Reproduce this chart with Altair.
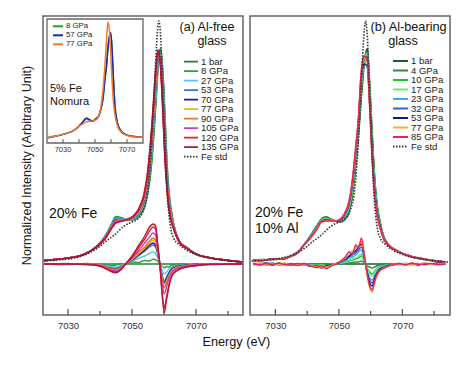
import altair as alt
import pandas as pd

# ---------------- data: panel (a) Al-free glass ----------------
SERIES_A = ["1 bar", "8 GPa", "27 GPa", "53 GPa", "70 GPa", "77 GPa", "90 GPa",
            "105 GPa", "120 GPa", "135 GPa", "Fe std"]
COLORS_A = ["#2a7a3b", "#2ca243", "#5cc3ee", "#3f6fcf", "#1c1f9e", "#f0b41a",
            "#f27424", "#c23fc6", "#ee1d25", "#b3173d", "#333333"]

E_A = [7022.5, 7026, 7030, 7034, 7037, 7040, 7042, 7043.5, 7045, 7046.5, 7048, 7049.5,
       7051, 7052.5, 7054, 7055, 7056, 7056.8, 7057.5, 7058.2, 7058.9, 7059.6, 7060.3,
       7061, 7061.7, 7062.5, 7063.5, 7065, 7067, 7070, 7074, 7079, 7084.5]
SPEC_A = {
    "1 bar":   [0.035, 0.045, 0.06, 0.085, 0.13, 0.21, 0.30, 0.39, 0.47, 0.465, 0.445, 0.44, 0.45, 0.49, 0.58, 0.72, 0.96, 1.28, 1.62, 1.98, 2.15, 1.95, 1.50, 0.98, 0.68, 0.49, 0.34, 0.22, 0.17, 0.10, 0.065, 0.04, 0.02],
    "8 GPa":   [0.035, 0.045, 0.06, 0.085, 0.13, 0.21, 0.30, 0.39, 0.475, 0.46, 0.445, 0.44, 0.455, 0.50, 0.60, 0.74, 0.99, 1.32, 1.66, 2.00, 2.13, 1.91, 1.455, 0.95, 0.66, 0.48, 0.34, 0.22, 0.17, 0.10, 0.065, 0.04, 0.02],
    "27 GPa":  [0.035, 0.045, 0.06, 0.085, 0.13, 0.21, 0.29, 0.38, 0.455, 0.455, 0.445, 0.445, 0.465, 0.52, 0.63, 0.79, 1.06, 1.39, 1.73, 2.03, 2.10, 1.83, 1.37, 0.90, 0.63, 0.46, 0.33, 0.22, 0.17, 0.10, 0.065, 0.04, 0.02],
    "53 GPa":  [0.035, 0.045, 0.06, 0.085, 0.13, 0.205, 0.29, 0.37, 0.445, 0.45, 0.44, 0.45, 0.47, 0.53, 0.65, 0.82, 1.11, 1.45, 1.78, 2.05, 2.07, 1.77, 1.30, 0.86, 0.61, 0.45, 0.33, 0.215, 0.165, 0.10, 0.065, 0.04, 0.02],
    "70 GPa":  [0.035, 0.045, 0.06, 0.085, 0.13, 0.205, 0.28, 0.37, 0.44, 0.44, 0.44, 0.45, 0.48, 0.54, 0.67, 0.85, 1.15, 1.49, 1.82, 2.07, 2.06, 1.73, 1.25, 0.84, 0.59, 0.44, 0.32, 0.215, 0.165, 0.10, 0.065, 0.04, 0.02],
    "77 GPa":  [0.035, 0.045, 0.06, 0.085, 0.13, 0.20, 0.28, 0.37, 0.43, 0.44, 0.44, 0.45, 0.48, 0.54, 0.68, 0.86, 1.16, 1.51, 1.84, 2.08, 2.05, 1.71, 1.23, 0.82, 0.58, 0.44, 0.32, 0.21, 0.165, 0.10, 0.065, 0.04, 0.02],
    "90 GPa":  [0.035, 0.045, 0.06, 0.085, 0.13, 0.20, 0.28, 0.36, 0.43, 0.44, 0.44, 0.45, 0.485, 0.55, 0.69, 0.88, 1.20, 1.55, 1.87, 2.09, 2.03, 1.67, 1.19, 0.80, 0.57, 0.43, 0.32, 0.21, 0.165, 0.10, 0.065, 0.04, 0.02],
    "105 GPa": [0.035, 0.045, 0.06, 0.085, 0.13, 0.20, 0.28, 0.36, 0.42, 0.43, 0.44, 0.455, 0.49, 0.56, 0.71, 0.90, 1.23, 1.58, 1.91, 2.11, 2.01, 1.63, 1.14, 0.77, 0.55, 0.42, 0.32, 0.21, 0.16, 0.10, 0.065, 0.04, 0.02],
    "120 GPa": [0.035, 0.045, 0.06, 0.085, 0.13, 0.20, 0.27, 0.355, 0.415, 0.43, 0.44, 0.46, 0.495, 0.57, 0.72, 0.93, 1.27, 1.62, 1.94, 2.12, 2.00, 1.59, 1.10, 0.75, 0.54, 0.41, 0.31, 0.21, 0.16, 0.10, 0.065, 0.04, 0.02],
    "135 GPa": [0.035, 0.045, 0.06, 0.085, 0.13, 0.20, 0.27, 0.35, 0.41, 0.425, 0.44, 0.46, 0.50, 0.58, 0.74, 0.95, 1.30, 1.66, 1.98, 2.14, 1.98, 1.55, 1.05, 0.72, 0.52, 0.40, 0.31, 0.21, 0.16, 0.10, 0.065, 0.04, 0.02],
}

E_DA = [7022.5, 7030, 7036, 7040, 7042, 7043.5, 7045, 7046.5, 7048, 7050, 7052, 7054, 7055.5,
        7056.6, 7057.4, 7058.1, 7058.7, 7059.4, 7060.1, 7060.8, 7061.6, 7062.5, 7064, 7066,
        7069, 7074, 7084.5]
DIFF_A = {
    "1 bar":   [0] * 27,
    "8 GPa":   [0, -0.005, 0.005, -0.01, -0.005, -0.015, -0.01, 0.005, -0.005, 0.02, 0.015, 0.035, 0.03, 0.05, 0.04, 0.03, -0.01, -0.02, -0.04, -0.025, -0.03, -0.01, -0.015, 0.0, -0.005, 0, 0],
    "27 GPa":  [0, 0.005, -0.005, -0.01, -0.02, -0.03, -0.03, -0.015, 0.005, 0.03, 0.055, 0.08, 0.105, 0.12, 0.10, 0.06, 0.01, -0.06, -0.10, -0.08, -0.05, -0.03, -0.02, -0.01, 0, 0, 0],
    "53 GPa":  [0, 0, 0, -0.01, -0.025, -0.04, -0.045, -0.03, 0.0, 0.035, 0.08, 0.13, 0.17, 0.19, 0.17, 0.09, 0.0, -0.11, -0.17, -0.13, -0.08, -0.045, -0.025, -0.015, -0.005, 0, 0],
    "70 GPa":  [0, 0, 0, -0.01, -0.03, -0.045, -0.05, -0.03, 0.0, 0.04, 0.09, 0.14, 0.19, 0.21, 0.19, 0.10, 0.0, -0.12, -0.19, -0.15, -0.09, -0.05, -0.03, -0.015, -0.005, 0, 0],
    "77 GPa":  [0, 0, 0, -0.01, -0.03, -0.05, -0.055, -0.035, 0.0, 0.045, 0.10, 0.16, 0.21, 0.24, 0.22, 0.11, 0.0, -0.14, -0.22, -0.17, -0.11, -0.06, -0.035, -0.02, -0.01, 0, 0],
    "90 GPa":  [0, 0, 0, -0.01, -0.035, -0.05, -0.06, -0.04, 0.0, 0.05, 0.11, 0.17, 0.23, 0.26, 0.24, 0.12, 0.0, -0.15, -0.24, -0.19, -0.12, -0.07, -0.04, -0.02, -0.01, 0, 0],
    "105 GPa": [0, 0, 0, -0.015, -0.04, -0.06, -0.07, -0.045, 0.0, 0.06, 0.13, 0.21, 0.27, 0.31, 0.29, 0.14, 0.0, -0.19, -0.30, -0.23, -0.14, -0.08, -0.045, -0.025, -0.01, 0, 0],
    "120 GPa": [0, 0, -0.005, -0.02, -0.045, -0.07, -0.08, -0.055, 0.0, 0.07, 0.16, 0.25, 0.33, 0.37, 0.35, 0.17, 0.0, -0.27, -0.44, -0.33, -0.20, -0.11, -0.06, -0.035, -0.02, -0.005, 0],
    "135 GPa": [0, 0, -0.005, -0.02, -0.05, -0.075, -0.087, -0.06, 0.0, 0.08, 0.18, 0.28, 0.37, 0.40, 0.38, 0.18, 0.0, -0.30, -0.49, -0.36, -0.22, -0.12, -0.07, -0.04, -0.02, -0.005, 0],
}

# Fe metal standard (same in both panels)
E_FE = [7022.5, 7027, 7032, 7036, 7039.3, 7042, 7044.5, 7047.6, 7050, 7051.8, 7053.5, 7055,
        7056, 7057, 7057.7, 7058.4, 7059, 7059.6, 7060.3, 7061, 7061.6, 7062.2, 7063, 7064.5,
        7067, 7071, 7076, 7084.5]
FE_STD = [0.03, 0.04, 0.06, 0.10, 0.16, 0.23, 0.29, 0.38, 0.42, 0.45, 0.53, 0.75, 1.15, 1.75,
          2.20, 2.43, 2.25, 1.75, 1.25, 0.72, 0.48, 0.34, 0.26, 0.20, 0.14, 0.085, 0.05, 0.02]

# inset: 5% Fe (Nomura)
INSET_SERIES = ["8 GPa", "57 GPa", "77 GPa"]
INSET_COLORS = ["#22a022", "#1c28b4", "#f47a2a"]
E_I = [7020.5, 7025, 7030, 7034, 7037, 7040, 7042.5, 7044.5, 7046.5, 7048.5, 7050.5, 7052,
       7053.5, 7055, 7056.2, 7057.3, 7058.1, 7059, 7059.8, 7060.6, 7061.5, 7062.5, 7064, 7066,
       7069, 7073, 7079.5]
INSET = {
    "8 GPa":  [0.005, 0.02, 0.04, 0.06, 0.085, 0.125, 0.17, 0.21, 0.195, 0.18, 0.205, 0.225, 0.29, 0.41, 0.60, 0.76, 0.93, 1.05, 1.09, 0.94, 0.61, 0.33, 0.16, 0.08, 0.04, 0.02, 0.01],
    "57 GPa": [0.005, 0.02, 0.04, 0.06, 0.085, 0.125, 0.17, 0.205, 0.19, 0.175, 0.20, 0.22, 0.29, 0.42, 0.62, 0.78, 0.95, 1.06, 1.10, 0.95, 0.62, 0.33, 0.16, 0.08, 0.04, 0.02, 0.01],
    "77 GPa": [0.005, 0.02, 0.04, 0.06, 0.085, 0.125, 0.15, 0.17, 0.175, 0.18, 0.19, 0.215, 0.31, 0.50, 0.76, 1.05, 1.21, 1.12, 0.90, 0.62, 0.38, 0.24, 0.13, 0.07, 0.035, 0.016, 0.01],
}
INSET_TICK_LABELS = [7030, 7050, 7070]
INSET_TICKS = [7030, 7040, 7050, 7060, 7070]

# ---------------- data: panel (b) Al-bearing glass ----------------
SERIES_B = ["1 bar", "4 GPa", "10 GPa", "17 GPa", "23 GPa", "32 GPa", "53 GPa", "77 GPa",
            "85 GPa", "Fe std"]
COLORS_B = ["#1e5a2c", "#2e8b45", "#22c22a", "#6fe47e", "#3aaeea", "#3a62c0", "#10188c",
            "#f2b81a", "#f2205e", "#333333"]

E_BS = [7023, 7026, 7029, 7032, 7035, 7037, 7039, 7041, 7043, 7044.5, 7046, 7047.5, 7049,
        7050.5, 7052, 7053.2, 7054.3, 7055.3, 7056.2, 7057.1, 7058, 7058.9, 7059.7, 7060.5,
        7061.3, 7062.1, 7063, 7064, 7065.5, 7068, 7072, 7077, 7083.5]
SPEC_B = {
    "1 bar":  [0.03, 0.04, 0.045, 0.055, 0.08, 0.12, 0.19, 0.28, 0.38, 0.45, 0.47, 0.45, 0.43, 0.42, 0.45, 0.52, 0.70, 0.98, 1.30, 1.68, 2.00, 2.15, 1.80, 1.30, 0.85, 0.58, 0.42, 0.29, 0.20, 0.14, 0.08, 0.045, 0.02],
    "4 GPa":  [0.03, 0.045, 0.045, 0.05, 0.08, 0.12, 0.19, 0.28, 0.375, 0.445, 0.465, 0.445, 0.43, 0.425, 0.46, 0.535, 0.72, 1.01, 1.33, 1.72, 2.01, 2.13, 1.77, 1.26, 0.83, 0.565, 0.41, 0.285, 0.20, 0.14, 0.08, 0.045, 0.02],
    "10 GPa": [0.035, 0.038, 0.047, 0.053, 0.08, 0.117, 0.19, 0.273, 0.368, 0.44, 0.456, 0.443, 0.43, 0.43, 0.475, 0.56, 0.75, 1.05, 1.36, 1.77, 2.03, 2.11, 1.72, 1.21, 0.79, 0.545, 0.40, 0.28, 0.197, 0.138, 0.082, 0.047, 0.02],
    "17 GPa": [0.034, 0.038, 0.047, 0.053, 0.08, 0.115, 0.19, 0.27, 0.365, 0.437, 0.452, 0.441, 0.43, 0.434, 0.482, 0.57, 0.77, 1.065, 1.38, 1.80, 2.035, 2.10, 1.70, 1.19, 0.78, 0.535, 0.393, 0.277, 0.195, 0.138, 0.082, 0.047, 0.02],
    "23 GPa": [0.037, 0.037, 0.048, 0.052, 0.08, 0.113, 0.19, 0.267, 0.357, 0.43, 0.444, 0.437, 0.43, 0.44, 0.495, 0.59, 0.80, 1.10, 1.41, 1.85, 2.05, 2.08, 1.66, 1.14, 0.75, 0.515, 0.38, 0.27, 0.193, 0.137, 0.083, 0.048, 0.02],
    "32 GPa": [0.038, 0.036, 0.049, 0.051, 0.08, 0.112, 0.19, 0.265, 0.354, 0.428, 0.44, 0.435, 0.43, 0.443, 0.503, 0.60, 0.81, 1.12, 1.43, 1.875, 2.06, 2.07, 1.64, 1.11, 0.73, 0.505, 0.375, 0.268, 0.193, 0.136, 0.084, 0.049, 0.02],
    "53 GPa": [0.039, 0.036, 0.049, 0.051, 0.08, 0.111, 0.19, 0.263, 0.35, 0.424, 0.436, 0.433, 0.43, 0.446, 0.51, 0.613, 0.83, 1.14, 1.45, 1.90, 2.00, 1.98, 1.61, 1.09, 0.71, 0.495, 0.37, 0.265, 0.192, 0.136, 0.084, 0.049, 0.02],
    "77 GPa": [0.035, 0.042, 0.045, 0.056, 0.078, 0.112, 0.185, 0.262, 0.348, 0.422, 0.432, 0.43, 0.432, 0.452, 0.518, 0.625, 0.845, 1.16, 1.46, 1.92, 2.06, 2.03, 1.57, 1.03, 0.68, 0.475, 0.355, 0.26, 0.19, 0.135, 0.085, 0.05, 0.02],
    "85 GPa": [0.04, 0.035, 0.05, 0.05, 0.08, 0.11, 0.19, 0.26, 0.345, 0.42, 0.43, 0.43, 0.43, 0.45, 0.52, 0.63, 0.85, 1.17, 1.47, 1.94, 2.08, 2.04, 1.58, 1.05, 0.69, 0.48, 0.36, 0.26, 0.19, 0.135, 0.085, 0.05, 0.02],
}

E_BD = [7023, 7025, 7027, 7029, 7031, 7033, 7035, 7037, 7039, 7041, 7043, 7044.5, 7046, 7047.5,
        7049, 7050.5, 7052, 7053.2, 7054.3, 7055.3, 7056.2, 7057.1, 7058, 7058.9, 7059.7,
        7060.5, 7061.3, 7062.1, 7063, 7064, 7065.5, 7067, 7069, 7071, 7073, 7075, 7077, 7079,
        7081, 7083.5]
DIFF_B = {
    "1 bar":  [0] * 40,
    "4 GPa":  [0.0, 0.0, 0.0, 0.0, 0.005, 0.0, -0.005, 0.0, 0.0, 0.0, -0.005, 0.0, -0.005, 0.0, 0.0, 0.005, 0.005, 0.01, 0.015, 0.02, 0.02, 0.03, 0.01, -0.02, -0.03, -0.04, -0.03, -0.015, -0.01, -0.005, 0, 0, 0, 0, 0, 0, 0, 0, 0, 0],
    "10 GPa": [0.0, -0.005, 0.0, 0.005, -0.005, 0.0, 0.0, -0.005, 0.005, -0.005, -0.01, -0.015, -0.01, 0.0, -0.005, 0.01, 0.015, 0.03, 0.04, 0.05, 0.06, 0.08, 0.02, -0.04, -0.08, -0.10, -0.07, -0.04, -0.025, -0.015, -0.005, 0.0, 0.005, 0.0, 0.0, 0.0, -0.005, 0.0, 0.0, 0.0],
    "17 GPa": [0.0, 0.0, 0.005, -0.005, 0.0, 0.005, -0.01, 0.0, 0.0, -0.01, -0.015, -0.01, -0.02, -0.005, 0.0, 0.01, 0.02, 0.04, 0.05, 0.06, 0.08, 0.10, 0.03, -0.05, -0.10, -0.12, -0.08, -0.05, -0.03, -0.02, -0.01, 0.0, 0.0, 0.005, 0.0, -0.005, 0.0, 0.0, 0.0, 0.0],
    "23 GPa": [0.0, 0.005, -0.01, 0.0, 0.005, -0.01, 0.0, 0.005, -0.01, -0.01, -0.02, -0.02, -0.03, -0.01, 0.0, 0.015, 0.03, 0.06, 0.07, 0.09, 0.12, 0.14, 0.05, -0.07, -0.14, -0.16, -0.11, -0.07, -0.04, -0.025, -0.01, -0.005, 0.005, 0.0, -0.005, 0.0, 0.005, 0.0, -0.005, 0.0],
    "32 GPa": [0.005, -0.005, 0.0, 0.01, -0.01, 0.0, 0.005, -0.01, 0.0, -0.015, -0.02, -0.03, -0.025, -0.005, 0.005, 0.02, 0.04, 0.07, 0.09, 0.11, 0.14, 0.17, 0.06, -0.08, -0.16, -0.19, -0.13, -0.08, -0.05, -0.03, -0.02, 0.0, -0.005, 0.005, 0.0, 0.005, -0.005, 0.0, 0.0, 0.0],
    "53 GPa": [-0.005, 0.0, 0.01, -0.01, 0.005, 0.0, -0.015, 0.0, -0.01, -0.02, -0.025, -0.04, -0.02, -0.01, 0.0, 0.02, 0.05, 0.08, 0.11, 0.13, 0.17, 0.20, 0.07, -0.09, -0.19, -0.22, -0.15, -0.09, -0.05, -0.04, -0.015, -0.01, 0.0, -0.005, 0.005, -0.01, 0.005, 0.0, 0.01, 0.0],
    "77 GPa": [0.0, 0.01, -0.005, 0.0, -0.01, 0.01, -0.01, -0.005, -0.01, -0.015, -0.03, -0.035, -0.03, -0.015, 0.005, 0.025, 0.06, 0.10, 0.13, 0.16, 0.19, 0.22, 0.09, -0.12, -0.24, -0.28, -0.18, -0.11, -0.07, -0.04, -0.025, -0.005, 0.0, 0.005, -0.01, 0.0, 0.01, -0.005, 0.0, 0.005],
    "85 GPa": [0.01, -0.01, 0.005, -0.01, 0.01, -0.005, 0.0, -0.015, 0.005, -0.02, -0.035, -0.025, -0.045, -0.02, 0.0, 0.03, 0.07, 0.12, 0.10, 0.19, 0.16, 0.26, 0.10, -0.10, -0.22, -0.26, -0.17, -0.10, -0.06, -0.045, -0.02, -0.01, 0.005, -0.01, 0.01, -0.005, 0.0, 0.005, -0.005, 0.0],
}

TICKS_MAJOR = [7030, 7050, 7070]
TICKS_MINOR = [7040, 7060, 7080]

# ---------------- helpers ----------------
FONT = "Liberation Sans"
W, H = 200, 299
XDOM_A = [7022.2, 7084.7]
XDOM_B = [7022.0, 7085.0]
YDOM = [-0.51, 2.48]
PX_PER_UNIT = H / (YDOM[1] - YDOM[0])

# inset placement (pixels inside panel a) and its own data ranges
INSET_PX = (4, 100)      # left, right
INSET_PY = (3, 127)      # top, bottom
INSET_XDOM = (7020, 7080)
INSET_YDOM = (-0.05, 1.24)


def long_df(E, d):
    rows = []
    for k, vals in d.items():
        for e, v in zip(E, vals):
            rows.append({"series": k, "E": e, "I": v})
    return pd.DataFrame(rows)


FE_DF = pd.DataFrame({"series": "Fe std", "E": E_FE, "I": FE_STD})
DUMMY = pd.DataFrame({"k": [0]})

Y_SCALE = alt.Scale(domain=YDOM, nice=False, zero=False)
X_AXIS = alt.Axis(values=TICKS_MAJOR, format="d", tickSize=0, domain=False, grid=False,
                  labelFontSize=9.5, labelPadding=5, labelColor="#333", title=None)


def row_y(top, step):
    # vertical pixel position of a legend row, expressed in the panel's y data units
    return f"{YDOM[0]} + ({H} - ({top} + datum.row * {step})) / {PX_PER_UNIT}"


def text(txt, x, y, size, align="left", angle=0, color="#111"):
    return alt.Chart(DUMMY).mark_text(text=txt, fontSize=size, align=align, baseline="middle",
                                      font=FONT, color=color, angle=angle).encode(
        x=alt.value(x), y=alt.value(y))


def frame(x0, x1, y0, y1, width=1.5, fill="transparent"):
    return alt.Chart(DUMMY).mark_rect(fill=fill, stroke="#666", strokeWidth=width).encode(
        x=alt.value(x0), x2=alt.value(x1), y=alt.value(y0), y2=alt.value(y1))


def panel(spec_df, diff_df, series, colors, xdomain, leg):
    xs = alt.Scale(domain=xdomain, nice=False, zero=False)
    cs = alt.Scale(domain=series, range=colors)
    ds = alt.Scale(domain=series, range=[[1, 0]] * (len(series) - 1) + [[1.5, 1.5]])
    ws = alt.Scale(domain=series, range=[1.6] * (len(series) - 1) + [1.3])
    x = alt.X("E:Q", scale=xs, axis=X_AXIS)
    y = alt.Y("I:Q", scale=Y_SCALE, axis=None)
    color = alt.Color("series:N", scale=cs, legend=None, sort=series)
    dash = alt.StrokeDash("series:N", scale=ds, legend=None, sort=series)
    spec = alt.Chart(pd.concat([spec_df, FE_DF])).mark_line(interpolate="monotone").encode(
        x=x, y=y, color=color, strokeDash=dash,
        strokeWidth=alt.StrokeWidth("series:N", scale=ws, legend=None, sort=series),
    )
    diff = alt.Chart(diff_df).mark_line(strokeWidth=1.4, interpolate="monotone").encode(
        x=x, y=y, color=color)
    major = alt.Chart(pd.DataFrame({"E": TICKS_MAJOR})).mark_rule(color="#555", strokeWidth=1.2).encode(
        x=x, y=alt.value(H), y2=alt.value(H - 6))
    minor = alt.Chart(pd.DataFrame({"E": TICKS_MINOR})).mark_rule(color="#555", strokeWidth=1.2).encode(
        x=x, y=alt.value(H), y2=alt.value(H - 4))
    # legend drawn as marks: short line + label per series
    sym_x0, sym_x1, lab_x, top, step = leg
    leg_df = pd.DataFrame({"series": series, "row": list(range(len(series)))})
    ly = alt.Y("Ly:Q", scale=Y_SCALE, axis=None)
    leg_lines = alt.Chart(leg_df).transform_calculate(Ly=row_y(top, step)).mark_rule(
        strokeWidth=1.8).encode(x=alt.value(sym_x0), x2=alt.value(sym_x1), y=ly,
                                color=color, strokeDash=dash)
    leg_text = alt.Chart(leg_df).transform_calculate(Ly=row_y(top, step)).mark_text(
        align="left", baseline="middle", fontSize=9.5, font=FONT, color="#222").encode(
        x=alt.value(lab_x), y=ly, text="series:N")
    return [frame(0, W, 0, H), spec, diff, major, minor, leg_lines, leg_text], xs


layers_a, xs_a = panel(long_df(E_A, SPEC_A), long_df(E_DA, DIFF_A), SERIES_A, COLORS_A,
                       XDOM_A, (141, 155, 158, 45.7, 9.5))

# --- inset: its data are placed into the inset box of panel (a) with calculate transforms
kx = (INSET_PX[1] - INSET_PX[0]) / (INSET_XDOM[1] - INSET_XDOM[0])   # px per eV in inset
px_per_ev = W / (XDOM_A[1] - XDOM_A[0])
ky = (INSET_PY[1] - INSET_PY[0]) / (INSET_YDOM[1] - INSET_YDOM[0])   # px per unit in inset
EX = (f"{XDOM_A[0]} + ({INSET_PX[0]} + (datum.E - {INSET_XDOM[0]}) * {kx}) / {px_per_ev}")
IY = (f"{YDOM[0]} + ({H} - ({INSET_PY[1]} - (datum.I - {INSET_YDOM[0]}) * {ky})) / {PX_PER_UNIT}")

xs_i = alt.X("Ex:Q", scale=xs_a, axis=X_AXIS)
ys_i = alt.Y("Iy:Q", scale=Y_SCALE, axis=None)
inset_color_of = dict(zip(INSET_SERIES, INSET_COLORS))

inset_df = long_df(E_I, INSET)
inset_df["c"] = inset_df["series"].map(inset_color_of)
inset_leg_df = pd.DataFrame({"series": INSET_SERIES, "c": INSET_COLORS,
                             "row": list(range(len(INSET_SERIES)))})

inset_frame = frame(INSET_PX[0], INSET_PX[1], INSET_PY[0], INSET_PY[1], 1.3, "white")
inset_lines = alt.Chart(inset_df).transform_calculate(Ex=EX, Iy=IY).mark_line(
    strokeWidth=1.5, interpolate="monotone").encode(
    x=xs_i, y=ys_i, color=alt.Color("c:N", scale=None), detail="series:N")
inset_ticks = alt.Chart(pd.DataFrame({"E": INSET_TICKS})).transform_calculate(Ex=EX).mark_rule(
    color="#555", strokeWidth=1).encode(
    x=xs_i, y=alt.value(INSET_PY[1]), y2=alt.value(INSET_PY[1] - 4))
inset_labels = alt.Chart(pd.DataFrame({"E": INSET_TICK_LABELS})).transform_calculate(Ex=EX).mark_text(
    fontSize=7.5, baseline="middle", align="center", font=FONT, color="#333").encode(
    x=xs_i, y=alt.value(INSET_PY[1] + 7), text=alt.Text("E:Q", format="d"))
ily = alt.Y("Ly:Q", scale=Y_SCALE, axis=None)
inset_leg_lines = alt.Chart(inset_leg_df).transform_calculate(Ly=row_y(10.3, 9)).mark_rule(
    strokeWidth=2).encode(x=alt.value(10), x2=alt.value(20), y=ily,
                          color=alt.Color("c:N", scale=None))
inset_leg_text = alt.Chart(inset_leg_df).transform_calculate(Ly=row_y(10.3, 9)).mark_text(
    align="left", baseline="middle", fontSize=7.8, font=FONT, color="#222").encode(
    x=alt.value(23), y=ily, text="series:N")

panel_a = alt.layer(
    *layers_a,
    inset_frame, inset_lines, inset_ticks, inset_labels, inset_leg_lines, inset_leg_text,
    text("Normalized Intensity (Arbitrary Unit)", -16, H / 2, 12.6, "center", 270, "#222"),
    text("(a) Al-free", 164, 11, 12.5, "center"), text("glass", 169, 25, 12.5, "center"),
    text("20% Fe", 6, 197.5, 14), text("5% Fe", 7, 73, 11), text("Nomura", 7, 86, 11),
).properties(width=W, height=H)

layers_b, _ = panel(long_df(E_BS, SPEC_B), long_df(E_BD, DIFF_B), SERIES_B, COLORS_B,
                    XDOM_B, (143, 158, 161, 45, 9.5))
panel_b = alt.layer(*layers_b,
                    text("(b) Al-bearing", 158.5, 11, 12.7, "center"), text("glass", 153, 25, 12.7, "center"),
                    text("20% Fe", 5, 197, 14), text("10% Al", 5, 213, 14)).properties(width=W, height=H)

chart = alt.hconcat(panel_a, panel_b, spacing=7, bounds="flush").resolve_scale(
    x="independent", y="independent", color="independent", strokeDash="independent",
    strokeWidth="independent"
).properties(
    title=alt.TitleParams("Energy (eV)", orient="bottom", anchor="middle", fontSize=12.7,
                          fontWeight="normal", color="#111", offset=6, font=FONT),
    padding={"left": 12, "top": 7, "right": 5, "bottom": 5},
).configure(font=FONT).configure_view(strokeWidth=0)

chart.save("out.html", embed_options={"renderer": "svg", "actions": False})
